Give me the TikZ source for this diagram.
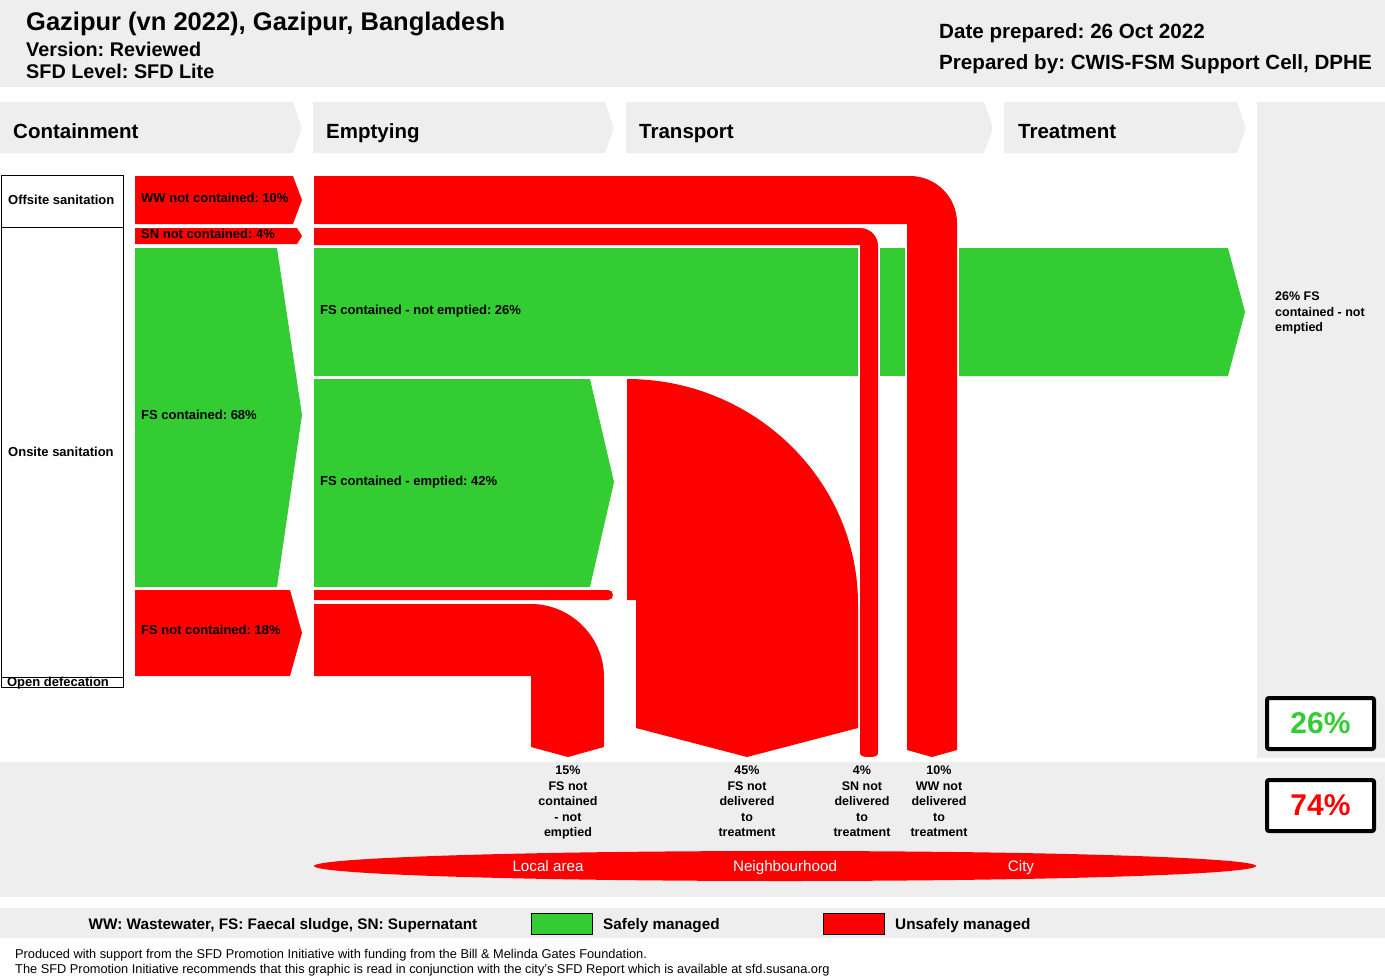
\documentclass[tikz,border=0pt]{standalone}
\usepackage{fontspec}
\setmainfont{Liberation Sans}
\frenchspacing
\definecolor{sfdred}{RGB}{255,0,0}
\definecolor{sfdgreen}{RGB}{51,204,51}
\definecolor{sfdgrey}{RGB}{238,238,238}
\tikzset{
  redflow/.style={fill=sfdred},
  greenflow/.style={fill=sfdgreen},
  greyband/.style={fill=sfdgrey},
  flowtext/.style={anchor=base west, inner sep=0pt, font=\bfseries\fontsize{13}{15}\selectfont},
  stagetext/.style={anchor=base west, inner sep=0pt, font=\bfseries\fontsize{20.5}{24}\selectfont},
  outtext/.style={anchor=north, align=center, inner sep=0pt, font=\bfseries\fontsize{12.5}{15.5}\selectfont},
  pctbox/.style={draw, line width=4pt, rounded corners=2pt, fill=white, minimum width=107pt, minimum height=51pt, inner sep=0pt, font=\bfseries\fontsize{30}{36}\selectfont},
  keybox/.style={draw, minimum width=61pt, minimum height=21pt, inner sep=0pt},
  keytext/.style={anchor=base west, inner sep=0pt, font=\bfseries\fontsize{15.3}{17}\selectfont},
  areatext/.style={anchor=base, inner sep=0pt, text=white, font=\fontsize{15.2}{17}\selectfont},
  foot/.style={anchor=base west, inner sep=0pt, font=\fontsize{12.8}{14}\selectfont},
}

\begin{document}
\begin{tikzpicture}[x=1pt, y=-1pt]
\useasboundingbox (0,0) rectangle (1385,980);
% header
\fill[greyband] (0,0) rectangle (1385,87);
\node[anchor=base west, inner sep=0pt, font=\bfseries\fontsize{25.5}{30}\selectfont] (title) at (26,30) {Gazipur (vn 2022), Gazipur, Bangladesh};
\node[anchor=base west, inner sep=0pt, font=\bfseries\fontsize{19.8}{22}\selectfont] (version) at (26,56.6) {Version: Reviewed};
\node[anchor=base west, inner sep=0pt, font=\bfseries\fontsize{19.8}{22}\selectfont] (level) at (26,78.6) {SFD Level: SFD Lite};
\node[anchor=base west, inner sep=0pt, font=\bfseries\fontsize{20.6}{24}\selectfont] (date) at (939,38) {Date prepared: 26 Oct 2022};
\node[anchor=base west, inner sep=0pt, font=\bfseries\fontsize{20.6}{24}\selectfont] (author) at (939,69) {Prepared by: CWIS-FSM Support Cell, DPHE};

% stage headers
\fill[greyband] (0,102) -- (293,102) -- (302,128) -- (293,153) -- (0,153) -- cycle;
\fill[greyband] (313,102) -- (605,102) -- (614,128) -- (605,153) -- (313,153) -- cycle;
\fill[greyband] (626,102) -- (984,102) -- (993,128) -- (984,153) -- (626,153) -- cycle;
\fill[greyband] (1004,102) -- (1237,102) -- (1246,128) -- (1237,153) -- (1004,153) -- cycle;
\node[stagetext] (containment) at (13,138) {Containment};
\node[stagetext] (emptying) at (326,138) {Emptying};
\node[stagetext] (transport) at (639,138) {Transport};
\node[stagetext] (treatment) at (1018,138) {Treatment};
\fill[greyband] (1257,102) rectangle (1385,758);
\fill[greyband] (0,762) rectangle (1385,897);

% sanitation types
\draw (1,175) rectangle (123,227);
\draw (1,227) rectangle (123,677);
\draw (1,677) rectangle (123,687);
\node[flowtext] (offsite) at (8,204.5) {Offsite sanitation};
\node[flowtext] (onsite) at (8,456.5) {Onsite sanitation};
\node[anchor=base, inner sep=0pt, font=\bfseries\fontsize{13}{15}\selectfont] (opendef) at (58,686.5) {Open defecation};

% containment
\fill[redflow] (135,176) -- (293,176) -- (302,200) -- (293,224) -- (135,224) -- cycle;
\fill[redflow] (135,228) -- (297,228) -- (302,236) -- (297,244) -- (135,244) -- cycle;
\fill[greenflow] (135,248) -- (277,248) -- (302,415) -- (277,587) -- (135,587) -- cycle;
\fill[redflow] (135,590) -- (290,590) -- (302,633) -- (290,676) -- (135,676) -- cycle;
\node[flowtext] (wwcont) at (141,202.5) {WW not contained: 10\%};
\node[flowtext] (sncont) at (141,238.5) {SN not contained: 4\%};
\node[flowtext] (fscont) at (141,419.5) {FS contained: 68\%};
\node[flowtext] (fsnotcont) at (141,634.5) {FS not contained: 18\%};

% emptying and transport
\fill[redflow] (314,176) -- (910,176) .. controls (936,176) and (957,197) .. (957,223) -- (957,750) -- (932,757) -- (907,750) -- (907,224) -- (314,224) -- cycle;
\fill[redflow] (314,228) -- (860,228) .. controls (870,228) and (878,236) .. (878,246) -- (878,753) .. controls (878,756) and (875,757) .. (869,757) .. controls (863,757) and (860,756) .. (860,753) -- (860,245) -- (314,245) -- cycle;
\fill[greenflow] (314,248) rectangle (858,376);
\fill[greenflow] (880,248) rectangle (905,376);
\fill[greenflow] (959,248) -- (1228,248) -- (1245,312) -- (1228,376) -- (959,376) -- cycle;
\fill[greenflow] (314,379) -- (590,379) -- (614,482) -- (590,587) -- (314,587) -- cycle;
\fill[redflow] (314,590) -- (608,590) .. controls (611,590) and (613,592) .. (613,595) .. controls (613,598) and (611,600) .. (608,600) -- (314,600) -- cycle;
\fill[redflow] (627,379) .. controls (754,379) and (858,480) .. (858,604) -- (858,728) -- (747,757) -- (636,728) -- (636,600) -- (627,600) -- cycle;
\fill[redflow] (314,604) -- (531,604) .. controls (571,604) and (604,637) .. (604,677) -- (604,747) -- (568,757) -- (531,747) -- (531,676) -- (314,676) -- cycle;
\node[flowtext] (notemptied) at (320,314.5) {FS contained - not emptied: 26\%};
\node[flowtext] (emptied) at (320,485.5) {FS contained - emptied: 42\%};

% outcomes
\node[outtext] (out15) at (568,766) {15\%\\FS not\\contained\\- not\\emptied};
\node[outtext] (out45) at (747,766) {45\%\\FS not\\delivered\\to\\treatment};
\node[outtext] (out4) at (862,766) {4\%\\SN not\\delivered\\to\\treatment};
\node[outtext] (out10) at (939,766) {10\%\\WW not\\delivered\\to\\treatment};
\node[outtext, anchor=north west, align=left] (safe26) at (1275,292) {26\% FS\\contained - not\\emptied};
\node[pctbox, text=sfdgreen] (safepct) at (1320.5,723.5) {26\%};
\node[pctbox, text=sfdred] (unsafepct) at (1320.5,805.5) {74\%};

% areas
\fill[redflow] (785,866) ellipse [x radius=471, y radius=15];
\node[areatext] (local) at (548,871) {Local area};
\node[areatext] (neighbour) at (785,871) {Neighbourhood};
\node[areatext] (city) at (1021,871) {City};

% legend
\fill[greyband] (0,908) rectangle (1385,938);
\node[keytext, anchor=base] (abbrev) at (283,929) {WW: Wastewater, FS: Faecal sludge, SN: Supernatant};
\node[keybox, fill=sfdgreen] (safekey) at (561.5,923.5) {};
\node[keytext] (safelabel) at (603,929) {Safely managed};
\node[keybox, fill=sfdred] (unsafekey) at (853.5,923.5) {};
\node[keytext] (unsafelabel) at (895,929) {Unsafely managed};
\node[foot] (support) at (15,958.3) {Produced with support from the SFD Promotion Initiative with funding from the Bill \& Melinda Gates Foundation.};
\node[foot] (recommend) at (15,973.3) {The SFD Promotion Initiative recommends that this graphic is read in conjunction with the city's SFD Report which is available at sfd.susana.org};
\end{tikzpicture}
\end{document}
